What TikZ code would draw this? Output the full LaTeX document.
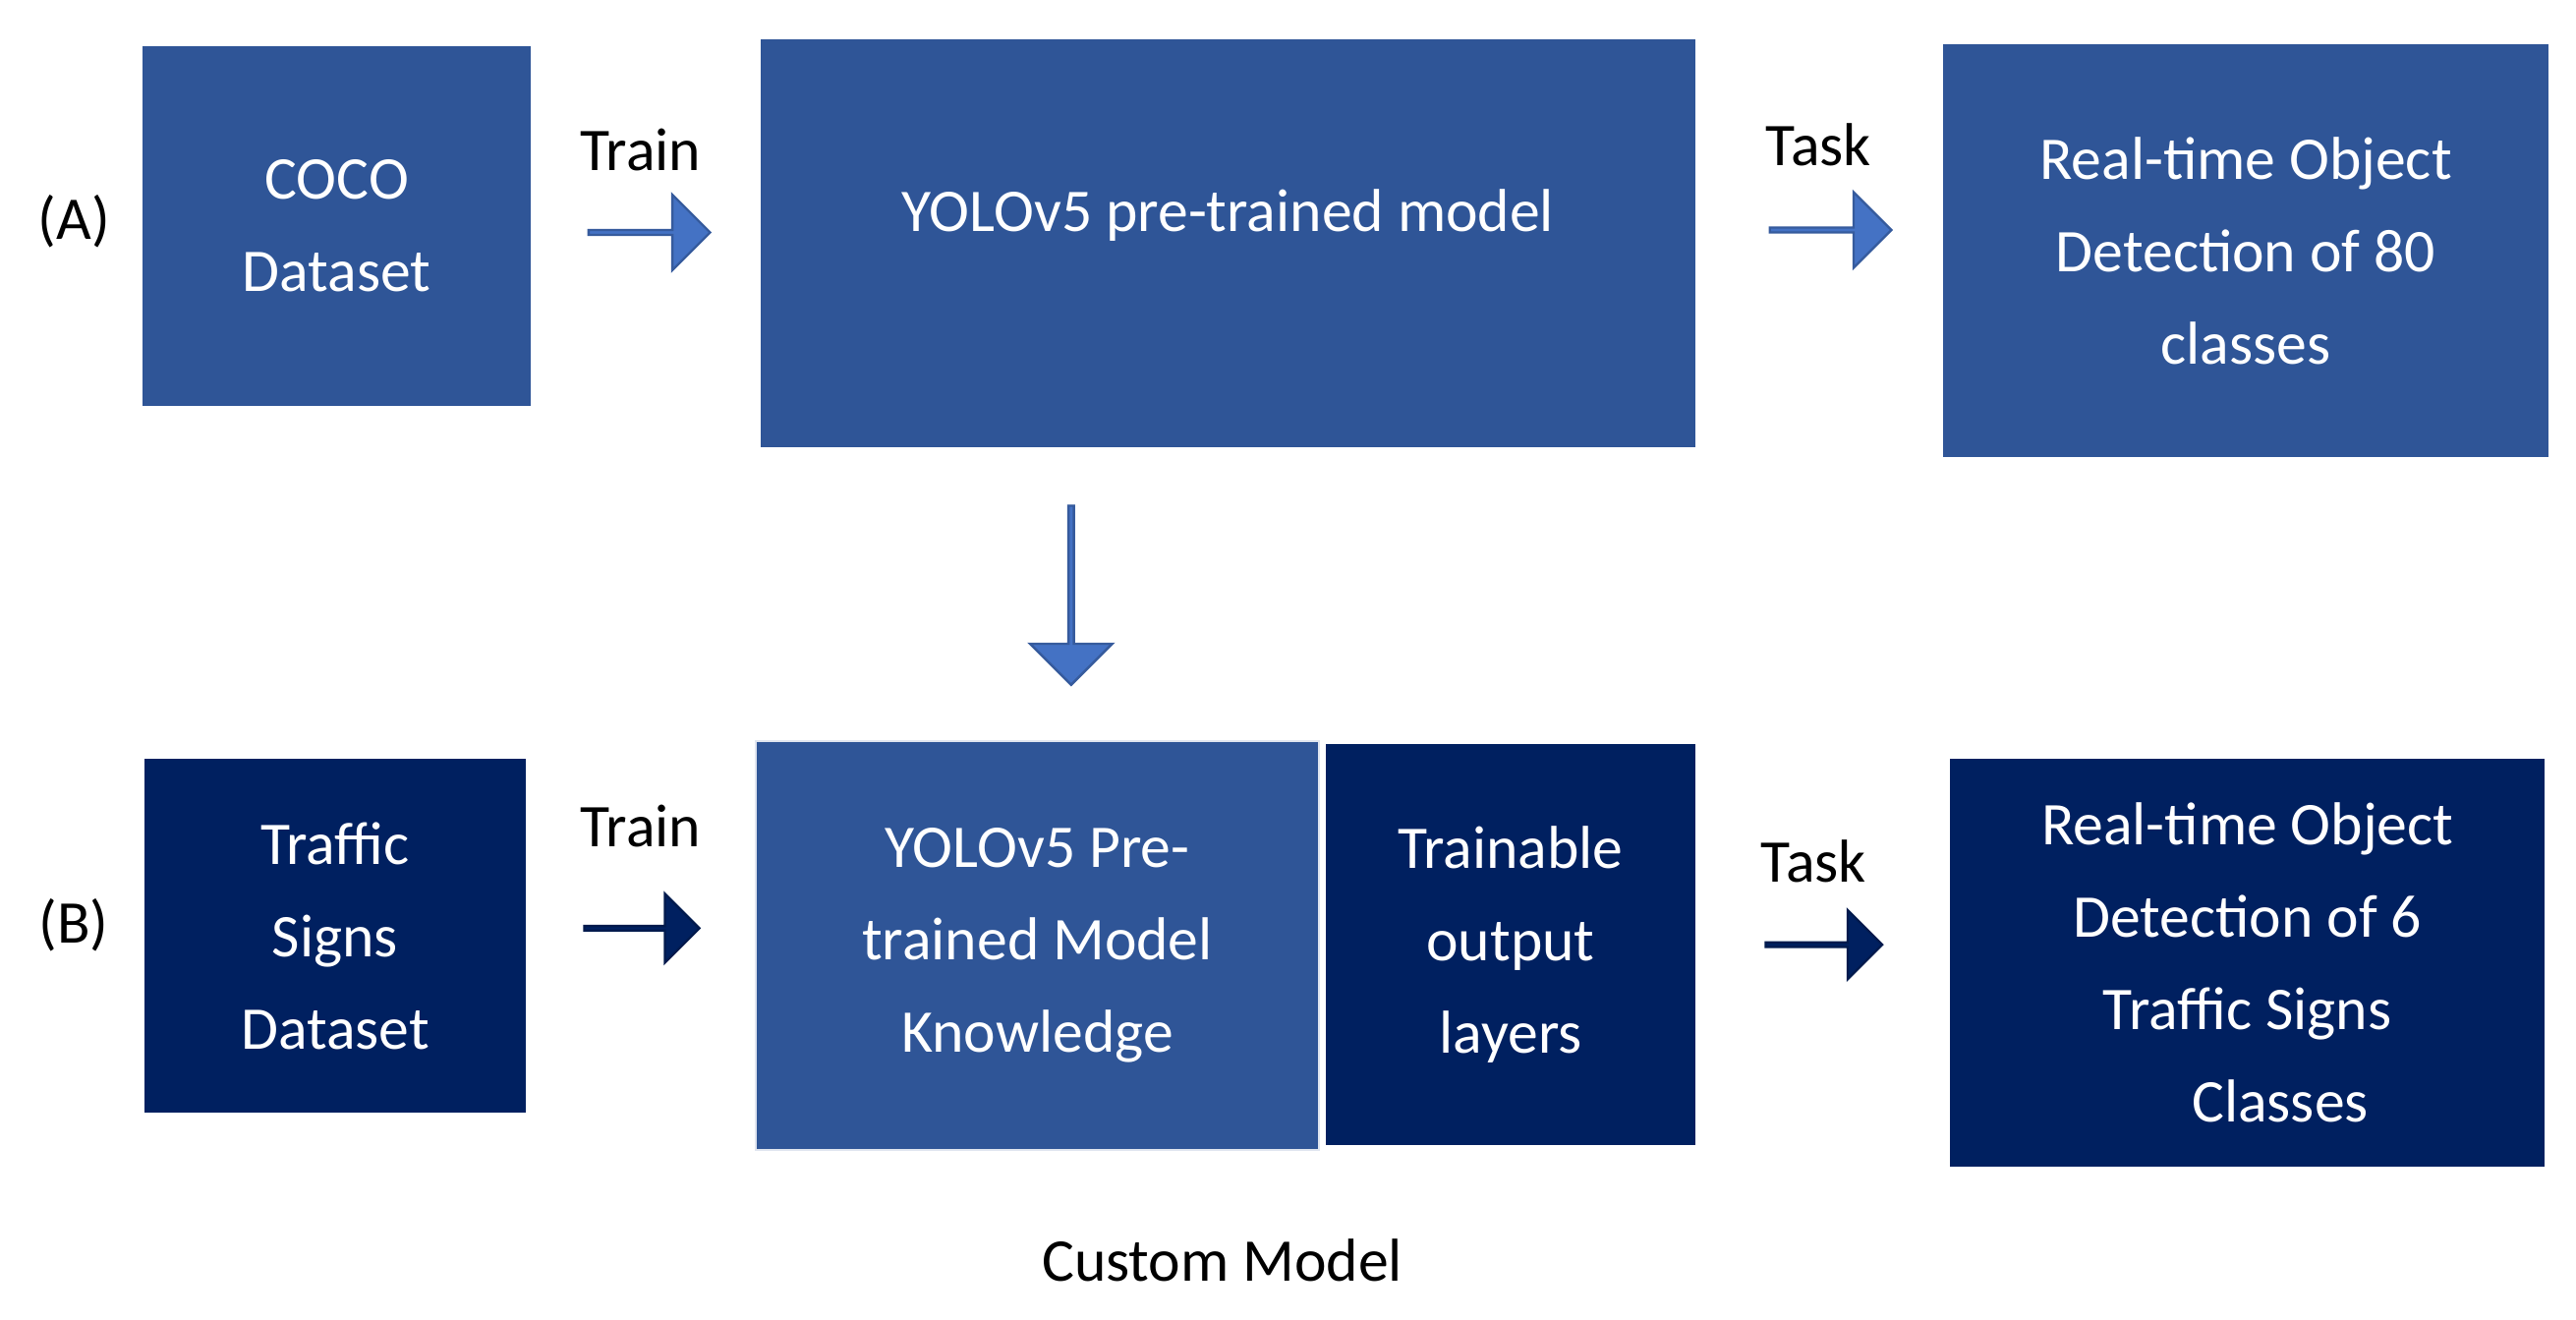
\documentclass[tikz,border=0pt]{standalone}
\usepackage{fontspec}
\setmainfont{Carlito}
\usetikzlibrary{shapes.arrows}
\definecolor{midblue}{HTML}{2F5597}
\definecolor{darkblue}{HTML}{002060}
\definecolor{arrowblue}{HTML}{4472C4}
\tikzset{
  box/.style={fill=#1, text=white, align=center, inner sep=0pt,
    font=\fontsize{10.5}{16}\selectfont},
  blockarrow/.style={single arrow, fill=#1, draw=#1!80!black, line width=0.4pt,
    single arrow head extend=0.1cm, inner sep=0pt, minimum height=0.74cm, minimum width=0.46cm},
  lbl/.style={font=\fontsize{10.5}{13}\selectfont}
}
\begin{document}
\begin{tikzpicture}
\useasboundingbox (0,0) rectangle (15.68,8.03);
% row (A)
\node[box=midblue, minimum width=2.36cm, minimum height=2.19cm] (coco) at (2.05,6.655) {COCO\\Dataset};
\node[box=midblue, minimum width=5.69cm, minimum height=2.48cm] (yolo) at (7.475,6.55) {};
\node[lbl, text=white] (yolotxt) at (7.475,6.72) {YOLOv5 pre-trained model};
\node[box=midblue, minimum width=3.68cm, minimum height=2.51cm] (detA) at (13.67,6.505) {Real-time Object\\Detection of 80\\classes};
\node[blockarrow=arrowblue] (trainA) at (3.945,6.615) {};
\node[blockarrow=arrowblue] (taskA) at (11.135,6.63) {};
\node[lbl] (trainAl) at (3.9,7.12) {Train};
\node[lbl] (taskAl) at (11.07,7.15) {Task};
\node[lbl] (labA) at (0.45,6.68) {(A)};
% transfer
\node[blockarrow=arrowblue, minimum height=1.09cm, minimum width=0.5cm, rotate=-90] (down) at (6.52,4.415) {};
% row (B)
\node[box=darkblue, minimum width=2.32cm, minimum height=2.15cm] (traffic) at (2.04,2.335) {Traffic\\Signs\\Dataset};
\node[box=midblue, draw=white!85!midblue, minimum width=3.43cm, minimum height=2.49cm] (know) at (6.315,2.275) {YOLOv5 Pre-\\trained Model\\Knowledge};
\node[box=darkblue, minimum width=2.25cm, minimum height=2.44cm] (layers) at (9.195,2.28) {Trainable\\output\\layers};
\node[box=darkblue, minimum width=3.62cm, minimum height=2.48cm] (detB) at (13.68,2.17) {Real-time Object\\Detection of 6\\Traffic Signs\\\hspace*{0.4cm}Classes};
\node[blockarrow=darkblue, minimum height=0.7cm, minimum width=0.42cm] (trainB) at (3.9,2.38) {};
\node[blockarrow=darkblue, minimum height=0.71cm, minimum width=0.42cm] (taskB) at (11.095,2.28) {};
\node[lbl] (trainBl) at (3.9,3.0) {Train};
\node[lbl] (taskBl) at (11.04,2.79) {Task};
\node[lbl] (labB) at (0.45,2.4) {(B)};
\node[lbl] (custom) at (7.44,0.36) {Custom Model};
\end{tikzpicture}
\end{document}
